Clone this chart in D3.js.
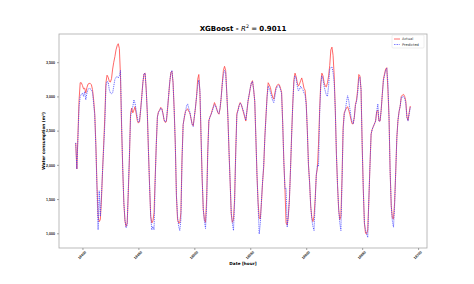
<!DOCTYPE html>
<html>
  <head>
    <!-- load the d3 javascript library -->
    <script src="https://d3js.org/d3.v7.min.js"></script>

    <style>
    body { margin: 0; background: #fff; }
    svg { font-family: "DejaVu Sans", sans-serif; }
    .axis path, .axis line { fill: none; stroke: #888; stroke-width: 0.8; }
    .axis text { font-size: 3.6px; font-weight: bold; fill: #222; }
    </style>
  </head>
  <body>
    <script>

    // first hour index of the test window
    var startHour = 18394;

    // actual consumption, one value per hour
    var actual = [
      2320,1940,2450,2950,3200,3200,3160,3110,3120,3050,3130,3180,3190,3190,3170,3100,2950,2750,2300,1700,1250,1170,1200,1500,
      1920,2300,2700,3200,3310,3280,3220,3210,3260,3400,3500,3580,3680,3740,3770,3700,3300,2550,1950,1450,1180,1100,1150,1600,
      2100,2750,2830,2760,2800,2850,2750,2650,2610,2630,2800,3000,3200,3330,3340,3100,2750,2200,1700,1250,1150,1180,1300,1800,
      2300,2700,2780,2800,2840,2820,2750,2650,2620,2630,2800,3000,3200,3350,3370,3200,2800,2300,1550,1200,1150,1150,1300,2100,
      2590,2680,2780,2800,2820,2780,2760,2680,2600,2570,2700,2830,3000,3250,3320,3050,2400,1800,1350,1200,1160,1500,2200,2650,
      2700,2740,2800,2850,2910,2870,2820,2760,2740,2820,2980,3200,3380,3440,3380,3050,2700,2200,1750,1280,1160,1200,1500,2200,
      2750,2800,2870,2910,2880,2820,2760,2700,2640,2780,2930,3020,3120,3200,3230,3100,2930,2400,1850,1450,1220,1210,1450,1750,
      1960,2400,2700,3000,3200,3170,3130,3050,2990,2960,3050,3130,3160,3180,3170,3120,3060,2600,2050,1650,1150,1120,1250,1500,
      1950,2450,2900,3250,3340,3290,3200,3150,3180,3230,3270,3200,3120,3090,2900,2500,2000,1750,1400,1230,1170,1250,1500,1850,
      1950,2300,2800,3200,3340,3300,3200,3150,3140,3200,3300,3450,3680,3720,3600,3300,2800,2150,1700,1350,1200,1250,1800,2550,
      2760,2800,2830,2850,2800,2740,2660,2600,2600,2700,2880,2950,3100,3320,3300,3100,2300,1650,1150,1000,990,1050,1500,2000,
      2450,2520,2560,2600,2640,2780,2800,2640,2640,2800,3030,3250,3330,3400,3420,3100,2700,1900,1400,1220,1210,1450,1900,2400,
      2650,2780,2860,3000,3020,3030,3000,2930,2700,2650,2760,2860
    ];

    // model prediction, one value per hour
    var predicted = [
      2320,1940,2400,2850,3000,3030,3050,3000,3070,2950,3050,3100,3120,3110,3100,3060,2900,2720,2250,1650,1050,1620,1250,1550,
      1920,2250,2600,3150,3220,3210,3100,3050,3040,3050,3150,3250,3280,3290,3270,3300,3380,2600,1950,1450,1200,1080,1120,1650,
      2150,2700,2800,2850,2950,2900,2800,2700,2620,2640,2800,2980,3200,3330,3340,3100,2750,2200,1700,1250,1050,1100,1050,1750,
      2300,2700,2770,2790,2830,2810,2740,2660,2630,2640,2820,3010,3210,3340,3380,3200,2800,2300,1550,1250,1100,1040,1200,2050,
      2580,2700,2760,2860,2890,2830,2770,2680,2590,2560,2700,2840,3000,3150,3240,3100,2450,1800,1350,1180,1070,1400,2150,2640,
      2700,2740,2780,2840,2880,2860,2810,2770,2750,2830,2990,3180,3320,3380,3350,3050,2700,2200,1750,1300,1150,1040,1450,2150,
      2720,2790,2860,2900,2880,2830,2780,2720,2650,2790,2940,3030,3120,3200,3220,3100,2930,2400,1850,1400,990,1150,1480,1750,
      2000,2380,2690,2980,3150,3120,3060,3000,2940,2910,3000,3100,3140,3160,3150,3100,3040,2600,2050,1650,1660,1090,1250,1500,
      1950,2450,2880,3200,3300,3260,3150,3080,3100,3150,3120,3100,3050,3020,2880,2500,2000,1750,1400,1200,1100,1040,1450,1850,
      2000,1980,2750,3150,3300,3250,3150,3080,3020,3000,3150,3400,3420,3430,3350,3200,2800,2150,1700,1350,1150,1040,1750,2500,
      2740,2800,2920,3010,2940,2820,2700,2630,2600,2700,2870,2930,3050,3250,3280,3100,2300,1650,1150,1050,990,940,1500,2000,
      2450,2520,2560,2600,2640,2780,2890,2640,2640,2800,3030,3230,3310,3380,3410,3200,2700,1900,1400,1180,1090,1400,1900,2400,
      2650,2780,2860,2990,2990,3000,2970,2900,2690,2640,2740,2840
    ];

    var yTicks = [1000, 1500, 2000, 2500, 3000, 3500];
    var xTicks = [18400, 18450, 18500, 18550, 18600, 18650, 18700];
    var seriesNames = ["Actual", "Predicted"];

    var w = 474, h = 284;
    var margin = { top: 34, right: 47, bottom: 36, left: 59 };

    var svg = d3.select("body").append("svg")
      .attr("width", w)
      .attr("height", h);

    var n = actual.length;
    var pad = (n - 1) * 0.05; // matplotlib style 5% margin

    var xScale = d3.scaleLinear()
      .domain([startHour - pad, startHour + n - 1 + pad])
      .range([margin.left, w - margin.right]);

    var yScale = d3.scaleLinear()
      .domain([785, 3912])
      .range([h - margin.bottom, margin.top]);

    var line = d3.line()
      .x(function(d, i) { return xScale(startHour + i); })
      .y(function(d) { return yScale(d); });

    // actual line
    svg.append("path")
      .datum(actual)
      .attr("fill", "none")
      .attr("stroke", "#ff4d4d")
      .attr("stroke-opacity", 0.85)
      .attr("stroke-width", 1)
      .attr("d", line);

    // predicted line, dotted
    svg.append("path")
      .datum(predicted)
      .attr("fill", "none")
      .attr("stroke", "#3a3aff")
      .attr("stroke-opacity", 0.8)
      .attr("stroke-width", 1)
      .attr("stroke-dasharray", "1,0.9")
      .attr("d", line);

    // frame
    svg.append("rect")
      .attr("x", margin.left)
      .attr("y", margin.top)
      .attr("width", w - margin.left - margin.right)
      .attr("height", h - margin.top - margin.bottom)
      .attr("fill", "none")
      .attr("stroke", "#aaa")
      .attr("stroke-width", 0.8);

    // x axis
    var xAxis = d3.axisBottom(xScale)
      .tickValues(xTicks)
      .tickSize(2)
      .tickFormat(d3.format("d"));

    var gx = svg.append("g")
      .attr("class", "axis")
      .attr("transform", "translate(0," + (h - margin.bottom) + ")")
      .call(xAxis);
    gx.select(".domain").remove();
    gx.selectAll("text")
      .attr("text-anchor", "middle")
      .attr("dy", null)
      .attr("y", 0)
      .attr("transform", "translate(0,8) rotate(-45)");

    // y axis
    var yAxis = d3.axisLeft(yScale)
      .tickValues(yTicks)
      .tickSize(2)
      .tickPadding(2);

    var gy = svg.append("g")
      .attr("class", "axis")
      .attr("transform", "translate(" + margin.left + ",0)")
      .call(yAxis);
    gy.select(".domain").remove();

    // axis titles
    svg.append("text")
      .attr("x", (margin.left + w - margin.right) / 2)
      .attr("y", 265)
      .attr("text-anchor", "middle")
      .attr("font-size", "4.2px")
      .attr("font-weight", "bold")
      .text("Date [hour]");

    svg.append("text")
      .attr("transform", "translate(45," + ((margin.top + h - margin.bottom) / 2) + ") rotate(-90)")
      .attr("text-anchor", "middle")
      .attr("font-size", "4.2px")
      .attr("font-weight", "bold")
      .text("Water consumption (m\u00B3)");

    // title
    var title = svg.append("text")
      .attr("x", (margin.left + w - margin.right) / 2)
      .attr("y", 31)
      .attr("text-anchor", "middle")
      .attr("font-size", "7px")
      .attr("font-weight", "bold");
    title.append("tspan").text("XGBoost - ");
    title.append("tspan").attr("font-style", "italic").attr("font-weight", "normal").text("R");
    title.append("tspan").attr("font-weight", "normal").attr("font-size", "4.8px").attr("dy", "-3").text("2");
    title.append("tspan").attr("font-weight", "normal").attr("dy", "3").text(" = ");
    title.append("tspan").text("0.9011");

    // legend
    var lg = svg.append("g").attr("transform", "translate(392,35)");
    lg.append("rect")
      .attr("width", 32).attr("height", 13)
      .attr("rx", 1)
      .attr("fill", "#fff").attr("fill-opacity", 0.8)
      .attr("stroke", "#ddd").attr("stroke-width", 0.5);
    var colors = ["#ff4d4d", "#3a3aff"];
    seriesNames.forEach(function(name, i) {
      lg.append("line")
        .attr("x1", 2).attr("x2", 8)
        .attr("y1", 4 + i * 5.5).attr("y2", 4 + i * 5.5)
        .attr("stroke", colors[i]).attr("stroke-width", 0.8)
        .attr("stroke-dasharray", i === 1 ? "0.8,0.8" : null);
      lg.append("text")
        .attr("x", 10).attr("y", 5.3 + i * 5.5)
        .attr("font-size", "3.6px")
        .attr("fill", "#333")
        .text(name);
    });

    </script>
  </body>
</html>
